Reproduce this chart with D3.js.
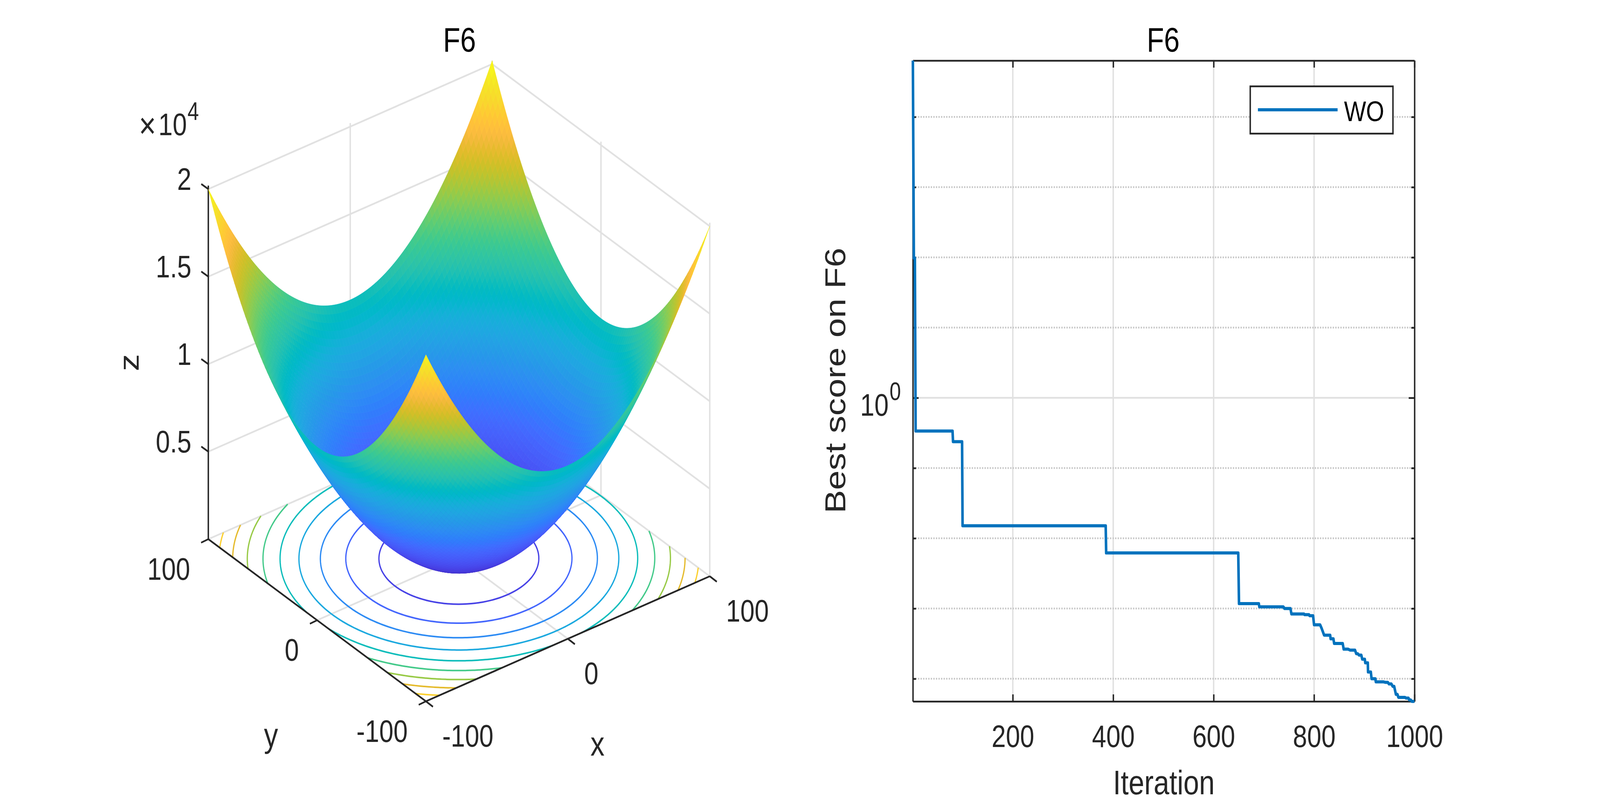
<!DOCTYPE html>
<html>
<head>
<meta charset="utf-8">
<script src="https://cdn.jsdelivr.net/npm/d3@7"></script>
<style>
  html, body { margin: 0; background: #fff; overflow: hidden; }
  #chart { display: block; width: 100vw; height: 100vh; }
  text { font-family: "Liberation Sans", Arial, sans-serif; fill: #262626; }
  .domain { stroke: #262626; stroke-width: 4.5; }
  .tick line { stroke: #262626; stroke-width: 4.5; }
</style>
</head>
<body>
<svg id="chart" viewBox="0 0 5000 2063" preserveAspectRatio="none"></svg>
<script>

// ---- left panel: surface data ----
var gridX = [-100,-98,-96,-94,-92,-90,-88,-86,-84,-82,-80,-78,-76,-74,-72,-70,-68,-66,-64,-62,-60,-58,-56,-54,-52,-50,-48,-46,-44,-42,-40,-38,-36,-34,-32,-30,-28,-26,-24,-22,-20,-18,-16,-14,-12,-10,-8,-6,-4,-2,0,2,4,6,8,10,12,14,16,18,20,22,24,26,28,30,32,34,36,38,40,42,44,46,48,50,52,54,56,58,60,62,64,66,68,70,72,74,76,78,80,82,84,86,88,90,92,94,96,98,100];

// height contributed by one coordinate, F6 is the sum of the two
var axisHeight = [9900.25,9506.25,9120.25,8742.25,8372.25,8010.25,7656.25,7310.25,6972.25,6642.25,6320.25,6006.25,5700.25,5402.25,5112.25,4830.25,4556.25,4290.25,4032.25,3782.25,3540.25,3306.25,3080.25,2862.25,2652.25,2450.25,2256.25,2070.25,1892.25,1722.25,1560.25,1406.25,1260.25,1122.25,992.25,870.25,756.25,650.25,552.25,462.25,380.25,306.25,240.25,182.25,132.25,90.25,56.25,30.25,12.25,2.25,0.25,6.25,20.25,42.25,72.25,110.25,156.25,210.25,272.25,342.25,420.25,506.25,600.25,702.25,812.25,930.25,1056.25,1190.25,1332.25,1482.25,1640.25,1806.25,1980.25,2162.25,2352.25,2550.25,2756.25,2970.25,3192.25,3422.25,3660.25,3906.25,4160.25,4422.25,4692.25,4970.25,5256.25,5550.25,5852.25,6162.25,6480.25,6806.25,7140.25,7482.25,7832.25,8190.25,8556.25,8930.25,9312.25,9702.25,10100.25];

var contourLevels = [2000,4000,6000,8000,10000,12000,14000,16000,18000];
var xyTicks = [-100,0,100];
var zTicks = [5000,10000,15000,20000];
var zTickLabels = ["0.5","1","1.5","2"];
var zMax = 20200.5;

var parula = ["#3e26a8","#402ab4","#422ec0","#4332cb","#4537d5","#463cde","#4741e5","#4747eb","#484df0","#4852f4","#4758f8","#465efa","#4563fd","#4269fe","#3e6fff","#3875fe","#327bfc","#2f81fa","#2d87f7","#2d8cf3","#2b91ef","#2796eb","#259be7","#23a0e5","#20a5e2","#1ca9df","#18addb","#12b1d6","#08b5d0","#01b8ca","#02bac3","#0bbdbc","#19bfb6","#24c1ae","#2cc3a7","#31c69f","#37c897","#3fca8e","#4acb84","#57cc7a","#64cd6f","#72cc64","#81cc59","#8fcb4e","#9dc942","#abc739","#b9c431","#c5c22a","#d1bf27","#dcbd29","#e6bb2d","#efba36","#f8ba3d","#febe3c","#fec338","#fec933","#fccf30","#f9d72d","#f7dd2a","#f5e227","#f5e924","#f5ef20","#f7f51b","#f9fb15"];

// ---- right panel: convergence curve ----
var iterations = [1,3,5,6.5,80,81,99,100,385,386,649,650.5,690,691,739,741,753,755,780,781,790,791,798,800,812,815,820,832,833,838.5,840,857,859,868,871.5,881.5,884,887,889.5,894,896,901,902,907,907.5,913,914.5,922,923,938.5,942.5,947,949,954,956.5,959.5,963,966,968,981,983,988,989.5,992.5,994.5,1000];
var scoreLog10 = [4.803,1.99,1.99,-0.473,-0.473,-0.625,-0.625,-1.822,-1.822,-2.209,-2.209,-2.93,-2.93,-2.977,-2.977,-3.0,-3.0,-3.078,-3.078,-3.088,-3.088,-3.103,-3.103,-3.232,-3.232,-3.282,-3.379,-3.379,-3.431,-3.431,-3.498,-3.498,-3.579,-3.579,-3.592,-3.592,-3.644,-3.644,-3.663,-3.663,-3.722,-3.722,-3.774,-3.774,-3.904,-3.904,-4.0,-4.0,-4.045,-4.045,-4.052,-4.052,-4.074,-4.074,-4.108,-4.108,-4.223,-4.223,-4.265,-4.265,-4.275,-4.275,-4.302,-4.302,-4.323,-4.323];
var iterTicks = [200,400,600,800,1000];
var decadeTicks = [-4,-3,-2,-1,0,1,2,3,4];

var svg = d3.select("#chart");
var gridColor = "#e1e1e1";
var axisColor = "#262626";

drawSurfacePanel();
drawCurvePanel();


function drawSurfacePanel(){
  var front = {x: 1331, y: 1795};
  var right = {x: 2218, y: 1475};
  var left = {x: 651, y: 1380};

  var sxOfX = d3.scaleLinear([-100,100],[0,right.x-front.x]);
  var syOfX = d3.scaleLinear([-100,100],[0,right.y-front.y]);
  var sxOfY = d3.scaleLinear([-100,100],[0,left.x-front.x]);
  var syOfY = d3.scaleLinear([-100,100],[0,left.y-front.y]);
  var zPx = d3.scaleLinear([0,20000],[0,896]);

  function project(x,y,z){
    return [front.x+sxOfX(x)+sxOfY(y), front.y+syOfX(x)+syOfY(y)-zPx(z)];
  }

  var color = d3.scaleLinear()
    .domain(parula.map(function(c,i){ return i/(parula.length-1)*zMax; }))
    .range(parula);

  var line = d3.line();
  var g = svg.append("g");

  // back walls + floor grid
  var gridPaths = [];
  [0].concat(zTicks).forEach(function(z){
    gridPaths.push([project(-100,100,z),project(100,100,z),project(100,-100,z)]);
  });
  xyTicks.slice(1).forEach(function(x){
    gridPaths.push([project(x,100,0),project(x,100,zMax)]);
  });
  xyTicks.slice(0,2).forEach(function(y){
    gridPaths.push([project(100,y,0),project(100,y,zMax)]);
  });
  gridPaths.push([project(0,-100,0),project(0,100,0)]);
  gridPaths.push([project(-100,0,0),project(100,0,0)]);

  g.append("g").selectAll("path").data(gridPaths).enter().append("path")
    .attr("d",line).attr("fill","none")
    .attr("stroke",gridColor).attr("stroke-width",4.5);

  // floor contours
  var n = gridX.length;
  var values = [];
  for(var j=0;j<n;j++){
    for(var i=0;i<n;i++){
      values.push(axisHeight[i]+axisHeight[j]);
    }
  }
  var contours = d3.contours().size([n,n]).thresholds(contourLevels)(values);
  var step = gridX[1]-gridX[0];

  var ringLine = d3.line()
    .defined(function(p){ return p[0]>0 && p[0]<n && p[1]>0 && p[1]<n; })
    .x(function(p){ return project(gridX[0]+(p[0]-0.5)*step,gridX[0]+(p[1]-0.5)*step,0)[0]; })
    .y(function(p){ return project(gridX[0]+(p[0]-0.5)*step,gridX[0]+(p[1]-0.5)*step,0)[1]; });

  g.append("g").selectAll("path").data(contours).enter().append("path")
    .attr("d",function(c){
      return c.coordinates.map(function(poly){
        return poly.map(function(ring){ return ringLine(ring); }).join("");
      }).join("");
    })
    .attr("fill","none")
    .attr("stroke",function(c){ return color(c.value); })
    .attr("stroke-width",4);

  // axis lines and ticks
  var axisPaths = [
    [project(-100,100,0),project(-100,100,zMax)],
    [project(-100,100,0),project(-100,-100,0),project(100,-100,0)]
  ];
  var yTickDir = [-22.5,9], xTickDir = [22,14], zTickDir = [-22,-13];
  xyTicks.forEach(function(v){
    var a = project(v,-100,0);
    axisPaths.push([a,[a[0]+xTickDir[0],a[1]+xTickDir[1]]]);
    var b = project(-100,v,0);
    axisPaths.push([b,[b[0]+yTickDir[0],b[1]+yTickDir[1]]]);
  });
  zTicks.forEach(function(z){
    var a = project(-100,100,z);
    axisPaths.push([a,[a[0]+zTickDir[0],a[1]+zTickDir[1]]]);
  });
  g.append("g").selectAll("path").data(axisPaths).enter().append("path")
    .attr("d",line).attr("fill","none")
    .attr("stroke",axisColor).attr("stroke-width",4.5);

  // surface, far quads first
  var quads = [];
  for(var a=0;a<n-1;a++){
    for(var b=0;b<n-1;b++){
      var zs = [axisHeight[a]+axisHeight[b],axisHeight[a+1]+axisHeight[b],axisHeight[a+1]+axisHeight[b+1],axisHeight[a]+axisHeight[b+1]];
      var zm = d3.mean(zs);
      var xm = (gridX[a]+gridX[a+1])/2, ym = (gridX[b]+gridX[b+1])/2;
      quads.push({
        pts: [project(gridX[a],gridX[b],zs[0]),project(gridX[a+1],gridX[b],zs[1]),project(gridX[a+1],gridX[b+1],zs[2]),project(gridX[a],gridX[b+1],zs[3])],
        z: zm,
        near: -0.527*xm-0.687*ym+0.5*zm/100
      });
    }
  }
  quads.sort(function(p,q){ return d3.ascending(p.near,q.near); });

  g.append("g").selectAll("path").data(quads).enter().append("path")
    .attr("d",function(q){ return line(q.pts)+"Z"; })
    .attr("fill",function(q){ return color(q.z); })
    .attr("stroke",function(q){ return color(q.z); })
    .attr("stroke-width",0.8);

  // labels
  var fs = 80;
  g.selectAll(".xl").data(xyTicks).enter().append("text")
    .attr("x",function(v){ return project(v,-100,0)[0]+51; })
    .attr("y",function(v){ return project(v,-100,0)[1]+116; })
    .attr("font-size",fs).text(function(v){ return v; });
  g.selectAll(".yl").data(xyTicks).enter().append("text")
    .attr("x",function(v){ return project(-100,v,0)[0]-57; })
    .attr("y",function(v){ return project(-100,v,0)[1]+104; })
    .attr("text-anchor","end")
    .attr("font-size",fs).text(function(v){ return v; });
  g.selectAll(".zl").data(zTicks).enter().append("text")
    .attr("x",function(v){ return project(-100,100,v)[0]-53; })
    .attr("y",function(v){ return project(-100,100,v)[1]+2.5; })
    .attr("text-anchor","end")
    .attr("font-size",fs).text(function(v,i){ return zTickLabels[i]; });

  // exponent
  g.append("text").attr("x",434).attr("y",353).attr("font-size",92).text("\u00d7");
  g.append("text").attr("x",495).attr("y",346).attr("font-size",fs).text("10");
  g.append("text").attr("x",586).attr("y",307).attr("font-size",64).text("4");

  g.append("text").attr("x",1867).attr("y",1934).attr("text-anchor","middle").attr("font-size",88).text("x");
  g.append("text").attr("x",847).attr("y",1912).attr("text-anchor","middle").attr("font-size",88).text("y");
  g.append("text").attr("transform","translate(433,928) rotate(-90)").attr("text-anchor","middle").attr("font-size",88).text("z");
  g.append("text").attr("x",1436).attr("y",132).attr("text-anchor","middle").attr("font-size",88).style("fill","#000").text("F6");
}


function drawCurvePanel(){
  var box = {left: 2852.7, right: 4420.3, top: 155, bottom: 1795.3};

  var x = d3.scaleLinear([1,1000],[box.left,box.right]);
  var y = d3.scaleLog([Math.pow(10,-4.323),Math.pow(10,4.803)],[box.bottom,box.top]);

  var g = svg.append("g");

  // grid
  g.append("g").selectAll("line").data(iterTicks.slice(0,4)).enter().append("line")
    .attr("x1",x).attr("x2",x).attr("y1",box.top).attr("y2",box.bottom)
    .attr("stroke",gridColor).attr("stroke-width",4.5);
  g.append("g").selectAll("line").data(decadeTicks).enter().append("line")
    .attr("x1",box.left).attr("x2",box.right)
    .attr("y1",function(d){ return y(Math.pow(10,d)); })
    .attr("y2",function(d){ return y(Math.pow(10,d)); })
    .attr("stroke",function(d){ return d==0 ? gridColor : "#c6c6c6"; })
    .attr("stroke-width",4.5)
    .attr("stroke-dasharray",function(d){ return d==0 ? null : "4 4"; });

  // box and ticks
  var decadeValues = decadeTicks.map(function(d){ return Math.pow(10,d); });

  g.append("g").attr("transform","translate(0,"+box.bottom+")")
    .call(d3.axisBottom(x).tickValues(iterTicks).tickFormat(d3.format("d")).tickSizeInner(-18).tickSizeOuter(0).tickPadding(60))
    .call(tidyAxis)
    .selectAll("text").attr("font-size",80).style("fill","#262626");
  g.append("g").attr("transform","translate(0,"+box.top+")")
    .call(d3.axisTop(x).tickValues(iterTicks).tickSizeInner(-18).tickSizeOuter(0).tickFormat(""))
    .call(tidyAxis);
  [[d3.axisLeft,box.left],[d3.axisRight,box.right]].forEach(function(a){
    g.append("g").attr("transform","translate("+a[1]+",0)")
      .call(a[0](y).tickValues(decadeValues).tickSizeInner(-10).tickSizeOuter(0).tickFormat(""))
      .call(tidyAxis)
      .selectAll(".tick line")
      .filter(function(d){ return d==1; })
      .attr("x2",a[0]==d3.axisLeft ? 18 : -18);
  });

  // only 10^0 gets a label on this axis
  g.append("text").attr("x",2688).attr("y",y(1)+46).attr("font-size",80).text("10");
  g.append("text").attr("x",2780).attr("y",y(1)+6).attr("font-size",64).text("0");

  // curve
  var curve = d3.line()
    .x(function(d,i){ return x(d); })
    .y(function(d,i){ return y(Math.pow(10,scoreLog10[i])); });
  g.append("path").attr("d",curve(iterations))
    .attr("fill","none").attr("stroke","#0072bd").attr("stroke-width",8)
    .attr("stroke-linejoin","round");

  // legend
  g.append("rect").attr("x",3907).attr("y",221).attr("width",446).attr("height",121)
    .attr("fill","#fff").attr("stroke",axisColor).attr("stroke-width",4.5);
  g.append("line").attr("x1",3931).attr("x2",4180).attr("y1",281).attr("y2",281)
    .attr("stroke","#0072bd").attr("stroke-width",8);
  g.append("text").attr("x",4200).attr("y",310).attr("font-size",73).style("fill","#000").text("WO");

  // labels
  g.append("text").attr("x",3635).attr("y",132).attr("text-anchor","middle").attr("font-size",88).style("fill","#000").text("F6");
  g.append("text").attr("x",3637).attr("y",2033).attr("text-anchor","middle").attr("font-size",88).text("Iteration");
  g.append("text").attr("transform","translate(2642,974) rotate(-90)").attr("text-anchor","middle").attr("font-size",90).text("Best score on F6");
}

function tidyAxis(sel){
  sel.attr("font-family",null).attr("font-size",null);
  sel.select(".domain").attr("fill","none");
}

</script>
</body>
</html>
